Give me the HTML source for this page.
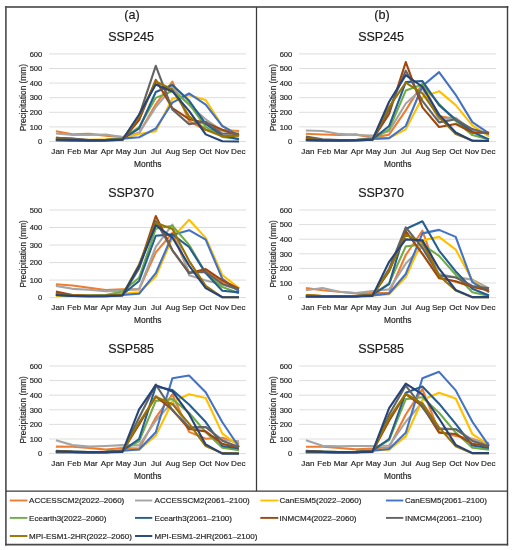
<!DOCTYPE html>
<html><head><meta charset="utf-8"><style>html,body{margin:0;padding:0;background:#fff;width:513px;height:550px;overflow:hidden}svg text{font-family:'Liberation Sans', sans-serif;stroke:currentColor;stroke-width:0.18px} svg{will-change:transform}</style></head>
<body><svg width="513" height="550" viewBox="0 0 513 550" style="display:block"><g><rect x="0" y="0" width="513" height="550" fill="#fff"/>
<text x="131.10" y="40.90" font-size="12.5" text-anchor="middle" fill="#1a1a1a" color="#1a1a1a">SSP245</text>
<text x="42.30" y="144.20" font-size="7.6" text-anchor="end" fill="#262626" color="#262626">0</text>
<line x1="49.1" y1="126.90" x2="246.0" y2="126.90" stroke="#d9d9d9" stroke-width="0.9"/>
<text x="42.30" y="129.60" font-size="7.6" text-anchor="end" fill="#262626" color="#262626">100</text>
<line x1="49.1" y1="112.30" x2="246.0" y2="112.30" stroke="#d9d9d9" stroke-width="0.9"/>
<text x="42.30" y="115.00" font-size="7.6" text-anchor="end" fill="#262626" color="#262626">200</text>
<line x1="49.1" y1="97.70" x2="246.0" y2="97.70" stroke="#d9d9d9" stroke-width="0.9"/>
<text x="42.30" y="100.40" font-size="7.6" text-anchor="end" fill="#262626" color="#262626">300</text>
<line x1="49.1" y1="83.10" x2="246.0" y2="83.10" stroke="#d9d9d9" stroke-width="0.9"/>
<text x="42.30" y="85.80" font-size="7.6" text-anchor="end" fill="#262626" color="#262626">400</text>
<line x1="49.1" y1="68.50" x2="246.0" y2="68.50" stroke="#d9d9d9" stroke-width="0.9"/>
<text x="42.30" y="71.20" font-size="7.6" text-anchor="end" fill="#262626" color="#262626">500</text>
<line x1="49.1" y1="53.90" x2="246.0" y2="53.90" stroke="#d9d9d9" stroke-width="0.9"/>
<text x="42.30" y="56.60" font-size="7.6" text-anchor="end" fill="#262626" color="#262626">600</text>
<line x1="49.1" y1="141.50" x2="246.0" y2="141.50" stroke="#d9d9d9" stroke-width="0.9"/>
<text x="57.90" y="154.10" font-size="8.1" text-anchor="middle" fill="#262626" color="#262626">Jan</text>
<text x="74.30" y="154.10" font-size="8.1" text-anchor="middle" fill="#262626" color="#262626">Feb</text>
<text x="90.70" y="154.10" font-size="8.1" text-anchor="middle" fill="#262626" color="#262626">Mar</text>
<text x="107.10" y="154.10" font-size="8.1" text-anchor="middle" fill="#262626" color="#262626">Apr</text>
<text x="123.50" y="154.10" font-size="8.1" text-anchor="middle" fill="#262626" color="#262626">May</text>
<text x="139.90" y="154.10" font-size="8.1" text-anchor="middle" fill="#262626" color="#262626">Jun</text>
<text x="156.30" y="154.10" font-size="8.1" text-anchor="middle" fill="#262626" color="#262626">Jul</text>
<text x="172.70" y="154.10" font-size="8.1" text-anchor="middle" fill="#262626" color="#262626">Aug</text>
<text x="189.10" y="154.10" font-size="8.1" text-anchor="middle" fill="#262626" color="#262626">Sep</text>
<text x="205.50" y="154.10" font-size="8.1" text-anchor="middle" fill="#262626" color="#262626">Oct</text>
<text x="221.90" y="154.10" font-size="8.1" text-anchor="middle" fill="#262626" color="#262626">Nov</text>
<text x="238.30" y="154.10" font-size="8.1" text-anchor="middle" fill="#262626" color="#262626">Dec</text>
<text x="147.75" y="166.80" font-size="8.4" text-anchor="middle" fill="#262626" color="#262626">Months</text>
<text x="26.20" y="97.70" font-size="8.3" text-anchor="middle" fill="#262626" color="#262626" transform="rotate(-90 26.20 97.70)">Precipitation (mm)</text>
<polyline points="55.90,131.28 72.55,134.20 89.19,133.91 105.84,135.66 122.48,137.12 139.12,133.03 155.77,104.27 172.41,81.64 189.06,121.06 205.71,129.97 222.35,129.97 239.00,130.99" fill="none" stroke="#ED7D31" stroke-width="2.1" stroke-linejoin="round" stroke-linecap="butt"/>
<polyline points="55.90,133.47 72.55,134.93 89.19,134.93 105.84,134.49 122.48,137.12 139.12,133.03 155.77,107.19 172.41,87.48 189.06,105.00 205.71,119.31 222.35,130.99 239.00,133.76" fill="none" stroke="#A5A5A5" stroke-width="2.1" stroke-linejoin="round" stroke-linecap="butt"/>
<polyline points="55.90,140.04 72.55,140.04 89.19,139.75 105.84,139.31 122.48,138.29 139.12,134.05 155.77,131.28 172.41,98.58 189.06,95.22 205.71,100.04 222.35,126.02 239.00,134.93" fill="none" stroke="#FFC000" stroke-width="2.1" stroke-linejoin="round" stroke-linecap="butt"/>
<polyline points="55.90,140.33 72.55,140.77 89.19,140.77 105.84,140.33 122.48,138.58 139.12,137.27 155.77,128.51 172.41,102.66 189.06,93.47 205.71,104.56 222.35,126.02 239.00,135.66" fill="none" stroke="#4472C4" stroke-width="2.1" stroke-linejoin="round" stroke-linecap="butt"/>
<polyline points="55.90,139.75 72.55,140.04 89.19,140.04 105.84,139.75 122.48,138.58 139.12,127.19 155.77,97.85 172.41,91.13 189.06,103.54 205.71,126.90 222.35,136.97 239.00,138.87" fill="none" stroke="#70AD47" stroke-width="2.1" stroke-linejoin="round" stroke-linecap="butt"/>
<polyline points="55.90,140.04 72.55,140.33 89.19,140.33 105.84,140.04 122.48,138.87 139.12,128.51 155.77,92.01 172.41,85.00 189.06,100.62 205.71,123.98 222.35,135.66 239.00,139.31" fill="none" stroke="#255E91" stroke-width="2.1" stroke-linejoin="round" stroke-linecap="butt"/>
<polyline points="55.90,137.85 72.55,138.73 89.19,140.33 105.84,140.33 122.48,140.04 139.12,120.04 155.77,79.89 172.41,108.21 189.06,119.16 205.71,122.67 222.35,129.67 239.00,135.66" fill="none" stroke="#9E480E" stroke-width="2.1" stroke-linejoin="round" stroke-linecap="butt"/>
<polyline points="55.90,137.85 72.55,138.58 89.19,140.04 105.84,140.04 122.48,139.75 139.12,115.95 155.77,65.87 172.41,109.53 189.06,124.13 205.71,121.94 222.35,133.76 239.00,133.76" fill="none" stroke="#636363" stroke-width="2.1" stroke-linejoin="round" stroke-linecap="butt"/>
<polyline points="55.90,139.31 72.55,140.04 89.19,140.04 105.84,140.04 122.48,139.31 139.12,116.68 155.77,81.49 172.41,89.52 189.06,116.39 205.71,129.67 222.35,136.39 239.00,135.66" fill="none" stroke="#997300" stroke-width="2.1" stroke-linejoin="round" stroke-linecap="butt"/>
<polyline points="55.90,139.75 72.55,140.04 89.19,140.33 105.84,140.33 122.48,139.75 139.12,114.49 155.77,84.41 172.41,91.42 189.06,110.84 205.71,134.35 222.35,141.21 239.00,141.50" fill="none" stroke="#264478" stroke-width="2.1" stroke-linejoin="round" stroke-linecap="butt"/>
<text x="131.10" y="197.00" font-size="12.5" text-anchor="middle" fill="#1a1a1a" color="#1a1a1a">SSP370</text>
<text x="42.30" y="300.30" font-size="7.6" text-anchor="end" fill="#262626" color="#262626">0</text>
<line x1="49.1" y1="280.08" x2="246.0" y2="280.08" stroke="#d9d9d9" stroke-width="0.9"/>
<text x="42.30" y="282.78" font-size="7.6" text-anchor="end" fill="#262626" color="#262626">100</text>
<line x1="49.1" y1="262.56" x2="246.0" y2="262.56" stroke="#d9d9d9" stroke-width="0.9"/>
<text x="42.30" y="265.26" font-size="7.6" text-anchor="end" fill="#262626" color="#262626">200</text>
<line x1="49.1" y1="245.04" x2="246.0" y2="245.04" stroke="#d9d9d9" stroke-width="0.9"/>
<text x="42.30" y="247.74" font-size="7.6" text-anchor="end" fill="#262626" color="#262626">300</text>
<line x1="49.1" y1="227.52" x2="246.0" y2="227.52" stroke="#d9d9d9" stroke-width="0.9"/>
<text x="42.30" y="230.22" font-size="7.6" text-anchor="end" fill="#262626" color="#262626">400</text>
<line x1="49.1" y1="210.00" x2="246.0" y2="210.00" stroke="#d9d9d9" stroke-width="0.9"/>
<text x="42.30" y="212.70" font-size="7.6" text-anchor="end" fill="#262626" color="#262626">500</text>
<line x1="49.1" y1="297.60" x2="246.0" y2="297.60" stroke="#d9d9d9" stroke-width="0.9"/>
<text x="57.90" y="310.20" font-size="8.1" text-anchor="middle" fill="#262626" color="#262626">Jan</text>
<text x="74.30" y="310.20" font-size="8.1" text-anchor="middle" fill="#262626" color="#262626">Feb</text>
<text x="90.70" y="310.20" font-size="8.1" text-anchor="middle" fill="#262626" color="#262626">Mar</text>
<text x="107.10" y="310.20" font-size="8.1" text-anchor="middle" fill="#262626" color="#262626">Apr</text>
<text x="123.50" y="310.20" font-size="8.1" text-anchor="middle" fill="#262626" color="#262626">May</text>
<text x="139.90" y="310.20" font-size="8.1" text-anchor="middle" fill="#262626" color="#262626">Jun</text>
<text x="156.30" y="310.20" font-size="8.1" text-anchor="middle" fill="#262626" color="#262626">Jul</text>
<text x="172.70" y="310.20" font-size="8.1" text-anchor="middle" fill="#262626" color="#262626">Aug</text>
<text x="189.10" y="310.20" font-size="8.1" text-anchor="middle" fill="#262626" color="#262626">Sep</text>
<text x="205.50" y="310.20" font-size="8.1" text-anchor="middle" fill="#262626" color="#262626">Oct</text>
<text x="221.90" y="310.20" font-size="8.1" text-anchor="middle" fill="#262626" color="#262626">Nov</text>
<text x="238.30" y="310.20" font-size="8.1" text-anchor="middle" fill="#262626" color="#262626">Dec</text>
<text x="147.75" y="322.90" font-size="8.4" text-anchor="middle" fill="#262626" color="#262626">Months</text>
<text x="26.20" y="253.80" font-size="8.3" text-anchor="middle" fill="#262626" color="#262626" transform="rotate(-90 26.20 253.80)">Precipitation (mm)</text>
<polyline points="55.90,284.28 72.55,285.51 89.19,287.79 105.84,290.07 122.48,289.37 139.12,289.37 155.77,252.40 172.41,232.95 189.06,272.55 205.71,270.44 222.35,281.66 239.00,288.66" fill="none" stroke="#ED7D31" stroke-width="2.1" stroke-linejoin="round" stroke-linecap="butt"/>
<polyline points="55.90,285.86 72.55,288.84 89.19,289.72 105.84,291.29 122.48,290.77 139.12,288.84 155.77,246.97 172.41,224.54 189.06,275.17 205.71,280.43 222.35,284.46 239.00,289.72" fill="none" stroke="#A5A5A5" stroke-width="2.1" stroke-linejoin="round" stroke-linecap="butt"/>
<polyline points="55.90,295.85 72.55,295.85 89.19,295.85 105.84,295.50 122.48,293.75 139.12,292.34 155.77,276.58 172.41,238.03 189.06,219.81 205.71,237.86 222.35,275.17 239.00,288.14" fill="none" stroke="#FFC000" stroke-width="2.1" stroke-linejoin="round" stroke-linecap="butt"/>
<polyline points="55.90,294.97 72.55,295.85 89.19,296.20 105.84,295.85 122.48,294.97 139.12,293.75 155.77,273.07 172.41,235.05 189.06,230.15 205.71,239.61 222.35,278.85 239.00,291.47" fill="none" stroke="#4472C4" stroke-width="2.1" stroke-linejoin="round" stroke-linecap="butt"/>
<polyline points="55.90,294.97 72.55,295.50 89.19,295.50 105.84,295.15 122.48,291.47 139.12,277.80 155.77,228.75 172.41,225.77 189.06,244.86 205.71,273.07 222.35,287.09 239.00,293.22" fill="none" stroke="#70AD47" stroke-width="2.1" stroke-linejoin="round" stroke-linecap="butt"/>
<polyline points="55.90,293.22 72.55,295.50 89.19,295.85 105.84,295.85 122.48,294.45 139.12,280.96 155.77,235.75 172.41,234.35 189.06,246.97 205.71,273.07 222.35,290.77 239.00,292.34" fill="none" stroke="#255E91" stroke-width="2.1" stroke-linejoin="round" stroke-linecap="butt"/>
<polyline points="55.90,291.64 72.55,295.15 89.19,295.85 105.84,295.85 122.48,294.97 139.12,266.76 155.77,215.96 172.41,250.30 189.06,273.25 205.71,269.04 222.35,280.43 239.00,288.66" fill="none" stroke="#9E480E" stroke-width="2.1" stroke-linejoin="round" stroke-linecap="butt"/>
<polyline points="55.90,294.10 72.55,295.85 89.19,296.20 105.84,296.20 122.48,295.50 139.12,268.34 155.77,221.04 172.41,250.30 189.06,272.55 205.71,272.02 222.35,283.93 239.00,289.54" fill="none" stroke="#636363" stroke-width="2.1" stroke-linejoin="round" stroke-linecap="butt"/>
<polyline points="55.90,294.10 72.55,295.50 89.19,295.85 105.84,295.85 122.48,294.97 139.12,264.49 155.77,222.79 172.41,228.92 189.06,260.81 205.71,285.86 222.35,297.25 239.00,297.25" fill="none" stroke="#997300" stroke-width="2.1" stroke-linejoin="round" stroke-linecap="butt"/>
<polyline points="55.90,294.97 72.55,295.85 89.19,296.20 105.84,296.20 122.48,295.50 139.12,266.06 155.77,225.24 172.41,237.51 189.06,265.54 205.71,288.14 222.35,297.25 239.00,297.25" fill="none" stroke="#264478" stroke-width="2.1" stroke-linejoin="round" stroke-linecap="butt"/>
<text x="131.10" y="353.00" font-size="12.5" text-anchor="middle" fill="#1a1a1a" color="#1a1a1a">SSP585</text>
<text x="42.30" y="456.30" font-size="7.6" text-anchor="end" fill="#262626" color="#262626">0</text>
<line x1="49.1" y1="439.00" x2="246.0" y2="439.00" stroke="#d9d9d9" stroke-width="0.9"/>
<text x="42.30" y="441.70" font-size="7.6" text-anchor="end" fill="#262626" color="#262626">100</text>
<line x1="49.1" y1="424.40" x2="246.0" y2="424.40" stroke="#d9d9d9" stroke-width="0.9"/>
<text x="42.30" y="427.10" font-size="7.6" text-anchor="end" fill="#262626" color="#262626">200</text>
<line x1="49.1" y1="409.80" x2="246.0" y2="409.80" stroke="#d9d9d9" stroke-width="0.9"/>
<text x="42.30" y="412.50" font-size="7.6" text-anchor="end" fill="#262626" color="#262626">300</text>
<line x1="49.1" y1="395.20" x2="246.0" y2="395.20" stroke="#d9d9d9" stroke-width="0.9"/>
<text x="42.30" y="397.90" font-size="7.6" text-anchor="end" fill="#262626" color="#262626">400</text>
<line x1="49.1" y1="380.60" x2="246.0" y2="380.60" stroke="#d9d9d9" stroke-width="0.9"/>
<text x="42.30" y="383.30" font-size="7.6" text-anchor="end" fill="#262626" color="#262626">500</text>
<line x1="49.1" y1="366.00" x2="246.0" y2="366.00" stroke="#d9d9d9" stroke-width="0.9"/>
<text x="42.30" y="368.70" font-size="7.6" text-anchor="end" fill="#262626" color="#262626">600</text>
<line x1="49.1" y1="453.60" x2="246.0" y2="453.60" stroke="#d9d9d9" stroke-width="0.9"/>
<text x="57.90" y="466.20" font-size="8.1" text-anchor="middle" fill="#262626" color="#262626">Jan</text>
<text x="74.30" y="466.20" font-size="8.1" text-anchor="middle" fill="#262626" color="#262626">Feb</text>
<text x="90.70" y="466.20" font-size="8.1" text-anchor="middle" fill="#262626" color="#262626">Mar</text>
<text x="107.10" y="466.20" font-size="8.1" text-anchor="middle" fill="#262626" color="#262626">Apr</text>
<text x="123.50" y="466.20" font-size="8.1" text-anchor="middle" fill="#262626" color="#262626">May</text>
<text x="139.90" y="466.20" font-size="8.1" text-anchor="middle" fill="#262626" color="#262626">Jun</text>
<text x="156.30" y="466.20" font-size="8.1" text-anchor="middle" fill="#262626" color="#262626">Jul</text>
<text x="172.70" y="466.20" font-size="8.1" text-anchor="middle" fill="#262626" color="#262626">Aug</text>
<text x="189.10" y="466.20" font-size="8.1" text-anchor="middle" fill="#262626" color="#262626">Sep</text>
<text x="205.50" y="466.20" font-size="8.1" text-anchor="middle" fill="#262626" color="#262626">Oct</text>
<text x="221.90" y="466.20" font-size="8.1" text-anchor="middle" fill="#262626" color="#262626">Nov</text>
<text x="238.30" y="466.20" font-size="8.1" text-anchor="middle" fill="#262626" color="#262626">Dec</text>
<text x="147.75" y="478.90" font-size="8.4" text-anchor="middle" fill="#262626" color="#262626">Months</text>
<text x="26.20" y="409.80" font-size="8.3" text-anchor="middle" fill="#262626" color="#262626" transform="rotate(-90 26.20 409.80)">Precipitation (mm)</text>
<polyline points="55.90,446.59 72.55,446.74 89.19,448.05 105.84,449.66 122.48,448.05 139.12,448.64 155.77,417.54 172.41,394.47 189.06,431.85 205.71,438.71 222.35,437.83 239.00,443.38" fill="none" stroke="#ED7D31" stroke-width="2.1" stroke-linejoin="round" stroke-linecap="butt"/>
<polyline points="55.90,440.17 72.55,445.13 89.19,446.59 105.84,446.01 122.48,445.13 139.12,445.42 155.77,420.75 172.41,401.92 189.06,428.78 205.71,427.03 222.35,439.73 239.00,441.19" fill="none" stroke="#A5A5A5" stroke-width="2.1" stroke-linejoin="round" stroke-linecap="butt"/>
<polyline points="55.90,452.14 72.55,452.14 89.19,452.43 105.84,452.14 122.48,450.39 139.12,449.51 155.77,435.64 172.41,401.92 189.06,394.18 205.71,397.97 222.35,433.60 239.00,445.57" fill="none" stroke="#FFC000" stroke-width="2.1" stroke-linejoin="round" stroke-linecap="butt"/>
<polyline points="55.90,452.43 72.55,452.43 89.19,452.43 105.84,452.43 122.48,450.68 139.12,449.51 155.77,432.28 172.41,378.26 189.06,375.49 205.71,392.28 222.35,422.21 239.00,447.03" fill="none" stroke="#4472C4" stroke-width="2.1" stroke-linejoin="round" stroke-linecap="butt"/>
<polyline points="55.90,451.85 72.55,451.85 89.19,452.14 105.84,451.85 122.48,449.95 139.12,441.34 155.77,400.89 172.41,399.14 189.06,412.72 205.71,432.14 222.35,447.61 239.00,450.10" fill="none" stroke="#70AD47" stroke-width="2.1" stroke-linejoin="round" stroke-linecap="butt"/>
<polyline points="55.90,451.85 72.55,451.85 89.19,452.14 105.84,451.85 122.48,450.68 139.12,439.00 155.77,386.44 172.41,389.94 189.06,404.54 205.71,422.06 222.35,446.01 239.00,448.49" fill="none" stroke="#255E91" stroke-width="2.1" stroke-linejoin="round" stroke-linecap="butt"/>
<polyline points="55.90,450.68 72.55,451.85 89.19,452.14 105.84,452.14 122.48,451.41 139.12,424.40 155.77,396.37 172.41,409.80 189.06,429.07 205.71,431.41 222.35,443.82 239.00,447.76" fill="none" stroke="#9E480E" stroke-width="2.1" stroke-linejoin="round" stroke-linecap="butt"/>
<polyline points="55.90,450.97 72.55,451.85 89.19,452.14 105.84,452.14 122.48,451.41 139.12,417.54 155.77,384.54 172.41,410.38 189.06,427.32 205.71,427.03 222.35,440.75 239.00,447.03" fill="none" stroke="#636363" stroke-width="2.1" stroke-linejoin="round" stroke-linecap="butt"/>
<polyline points="55.90,451.41 72.55,451.85 89.19,452.14 105.84,452.14 122.48,451.85 139.12,422.50 155.77,396.81 172.41,404.11 189.06,423.67 205.71,446.15 222.35,453.16 239.00,453.31" fill="none" stroke="#997300" stroke-width="2.1" stroke-linejoin="round" stroke-linecap="butt"/>
<polyline points="55.90,451.41 72.55,451.85 89.19,452.14 105.84,452.14 122.48,451.85 139.12,409.36 155.77,385.13 172.41,391.40 189.06,414.18 205.71,444.40 222.35,453.60 239.00,453.60" fill="none" stroke="#264478" stroke-width="2.1" stroke-linejoin="round" stroke-linecap="butt"/>
<text x="381.10" y="40.90" font-size="12.5" text-anchor="middle" fill="#1a1a1a" color="#1a1a1a">SSP245</text>
<text x="292.30" y="144.20" font-size="7.6" text-anchor="end" fill="#262626" color="#262626">0</text>
<line x1="299.1" y1="126.90" x2="496.0" y2="126.90" stroke="#d9d9d9" stroke-width="0.9"/>
<text x="292.30" y="129.60" font-size="7.6" text-anchor="end" fill="#262626" color="#262626">100</text>
<line x1="299.1" y1="112.30" x2="496.0" y2="112.30" stroke="#d9d9d9" stroke-width="0.9"/>
<text x="292.30" y="115.00" font-size="7.6" text-anchor="end" fill="#262626" color="#262626">200</text>
<line x1="299.1" y1="97.70" x2="496.0" y2="97.70" stroke="#d9d9d9" stroke-width="0.9"/>
<text x="292.30" y="100.40" font-size="7.6" text-anchor="end" fill="#262626" color="#262626">300</text>
<line x1="299.1" y1="83.10" x2="496.0" y2="83.10" stroke="#d9d9d9" stroke-width="0.9"/>
<text x="292.30" y="85.80" font-size="7.6" text-anchor="end" fill="#262626" color="#262626">400</text>
<line x1="299.1" y1="68.50" x2="496.0" y2="68.50" stroke="#d9d9d9" stroke-width="0.9"/>
<text x="292.30" y="71.20" font-size="7.6" text-anchor="end" fill="#262626" color="#262626">500</text>
<line x1="299.1" y1="53.90" x2="496.0" y2="53.90" stroke="#d9d9d9" stroke-width="0.9"/>
<text x="292.30" y="56.60" font-size="7.6" text-anchor="end" fill="#262626" color="#262626">600</text>
<line x1="299.1" y1="141.50" x2="496.0" y2="141.50" stroke="#d9d9d9" stroke-width="0.9"/>
<text x="307.90" y="154.10" font-size="8.1" text-anchor="middle" fill="#262626" color="#262626">Jan</text>
<text x="324.30" y="154.10" font-size="8.1" text-anchor="middle" fill="#262626" color="#262626">Feb</text>
<text x="340.70" y="154.10" font-size="8.1" text-anchor="middle" fill="#262626" color="#262626">Mar</text>
<text x="357.10" y="154.10" font-size="8.1" text-anchor="middle" fill="#262626" color="#262626">Apr</text>
<text x="373.50" y="154.10" font-size="8.1" text-anchor="middle" fill="#262626" color="#262626">May</text>
<text x="389.90" y="154.10" font-size="8.1" text-anchor="middle" fill="#262626" color="#262626">Jun</text>
<text x="406.30" y="154.10" font-size="8.1" text-anchor="middle" fill="#262626" color="#262626">Jul</text>
<text x="422.70" y="154.10" font-size="8.1" text-anchor="middle" fill="#262626" color="#262626">Aug</text>
<text x="439.10" y="154.10" font-size="8.1" text-anchor="middle" fill="#262626" color="#262626">Sep</text>
<text x="455.50" y="154.10" font-size="8.1" text-anchor="middle" fill="#262626" color="#262626">Oct</text>
<text x="471.90" y="154.10" font-size="8.1" text-anchor="middle" fill="#262626" color="#262626">Nov</text>
<text x="488.30" y="154.10" font-size="8.1" text-anchor="middle" fill="#262626" color="#262626">Dec</text>
<text x="397.75" y="166.80" font-size="8.4" text-anchor="middle" fill="#262626" color="#262626">Months</text>
<text x="276.20" y="97.70" font-size="8.3" text-anchor="middle" fill="#262626" color="#262626" transform="rotate(-90 276.20 97.70)">Precipitation (mm)</text>
<polyline points="305.90,133.76 322.54,134.49 339.19,134.93 355.83,134.35 372.48,137.70 389.12,134.64 405.77,110.40 422.41,83.54 439.06,116.39 455.70,118.87 472.35,132.89 489.00,132.45" fill="none" stroke="#ED7D31" stroke-width="2.1" stroke-linejoin="round" stroke-linecap="butt"/>
<polyline points="305.90,130.55 322.54,130.99 339.19,133.91 355.83,134.93 372.48,135.66 389.12,131.13 405.77,103.54 422.41,88.50 439.06,119.45 455.70,117.70 472.35,130.84 489.00,134.05" fill="none" stroke="#A5A5A5" stroke-width="2.1" stroke-linejoin="round" stroke-linecap="butt"/>
<polyline points="305.90,140.33 322.54,140.33 339.19,140.33 355.83,140.04 372.48,138.58 389.12,138.14 405.77,129.38 422.41,97.55 439.06,91.13 455.70,105.15 472.35,125.44 489.00,136.39" fill="none" stroke="#FFC000" stroke-width="2.1" stroke-linejoin="round" stroke-linecap="butt"/>
<polyline points="305.90,140.33 322.54,140.33 339.19,140.33 355.83,140.04 372.48,138.87 389.12,138.14 405.77,126.02 422.41,86.02 439.06,72.15 455.70,94.78 472.35,122.08 489.00,133.47" fill="none" stroke="#4472C4" stroke-width="2.1" stroke-linejoin="round" stroke-linecap="butt"/>
<polyline points="305.90,138.43 322.54,140.04 339.19,140.33 355.83,140.04 372.48,139.31 389.12,129.38 405.77,90.55 422.41,84.41 439.06,103.98 455.70,120.91 472.35,135.08 489.00,139.46" fill="none" stroke="#70AD47" stroke-width="2.1" stroke-linejoin="round" stroke-linecap="butt"/>
<polyline points="305.90,140.04 322.54,140.33 339.19,140.33 355.83,140.04 372.48,139.31 389.12,126.02 405.77,82.08 422.41,81.06 439.06,105.15 455.70,119.60 472.35,131.86 489.00,139.46" fill="none" stroke="#255E91" stroke-width="2.1" stroke-linejoin="round" stroke-linecap="butt"/>
<polyline points="305.90,137.85 322.54,139.75 339.19,140.33 355.83,140.33 372.48,139.75 389.12,113.91 405.77,62.08 422.41,107.34 439.06,127.05 455.70,123.98 472.35,132.45 489.00,133.03" fill="none" stroke="#9E480E" stroke-width="2.1" stroke-linejoin="round" stroke-linecap="butt"/>
<polyline points="305.90,136.54 322.54,139.31 339.19,140.04 355.83,140.04 372.48,139.31 389.12,109.38 405.77,70.69 422.41,100.77 439.06,122.37 455.70,119.31 472.35,129.09 489.00,134.05" fill="none" stroke="#636363" stroke-width="2.1" stroke-linejoin="round" stroke-linecap="butt"/>
<polyline points="305.90,139.31 322.54,140.04 339.19,140.33 355.83,140.04 372.48,139.75 389.12,107.04 405.77,82.52 422.41,93.47 439.06,117.12 455.70,134.05 472.35,140.62 489.00,140.92" fill="none" stroke="#997300" stroke-width="2.1" stroke-linejoin="round" stroke-linecap="butt"/>
<polyline points="305.90,140.04 322.54,140.33 339.19,140.33 355.83,140.33 372.48,139.75 389.12,101.79 405.77,75.07 422.41,86.75 439.06,114.64 455.70,132.45 472.35,140.77 489.00,141.06" fill="none" stroke="#264478" stroke-width="2.1" stroke-linejoin="round" stroke-linecap="butt"/>
<text x="381.10" y="197.00" font-size="12.5" text-anchor="middle" fill="#1a1a1a" color="#1a1a1a">SSP370</text>
<text x="292.30" y="300.30" font-size="7.6" text-anchor="end" fill="#262626" color="#262626">0</text>
<line x1="299.1" y1="283.00" x2="496.0" y2="283.00" stroke="#d9d9d9" stroke-width="0.9"/>
<text x="292.30" y="285.70" font-size="7.6" text-anchor="end" fill="#262626" color="#262626">100</text>
<line x1="299.1" y1="268.40" x2="496.0" y2="268.40" stroke="#d9d9d9" stroke-width="0.9"/>
<text x="292.30" y="271.10" font-size="7.6" text-anchor="end" fill="#262626" color="#262626">200</text>
<line x1="299.1" y1="253.80" x2="496.0" y2="253.80" stroke="#d9d9d9" stroke-width="0.9"/>
<text x="292.30" y="256.50" font-size="7.6" text-anchor="end" fill="#262626" color="#262626">300</text>
<line x1="299.1" y1="239.20" x2="496.0" y2="239.20" stroke="#d9d9d9" stroke-width="0.9"/>
<text x="292.30" y="241.90" font-size="7.6" text-anchor="end" fill="#262626" color="#262626">400</text>
<line x1="299.1" y1="224.60" x2="496.0" y2="224.60" stroke="#d9d9d9" stroke-width="0.9"/>
<text x="292.30" y="227.30" font-size="7.6" text-anchor="end" fill="#262626" color="#262626">500</text>
<line x1="299.1" y1="210.00" x2="496.0" y2="210.00" stroke="#d9d9d9" stroke-width="0.9"/>
<text x="292.30" y="212.70" font-size="7.6" text-anchor="end" fill="#262626" color="#262626">600</text>
<line x1="299.1" y1="297.60" x2="496.0" y2="297.60" stroke="#d9d9d9" stroke-width="0.9"/>
<text x="307.90" y="310.20" font-size="8.1" text-anchor="middle" fill="#262626" color="#262626">Jan</text>
<text x="324.30" y="310.20" font-size="8.1" text-anchor="middle" fill="#262626" color="#262626">Feb</text>
<text x="340.70" y="310.20" font-size="8.1" text-anchor="middle" fill="#262626" color="#262626">Mar</text>
<text x="357.10" y="310.20" font-size="8.1" text-anchor="middle" fill="#262626" color="#262626">Apr</text>
<text x="373.50" y="310.20" font-size="8.1" text-anchor="middle" fill="#262626" color="#262626">May</text>
<text x="389.90" y="310.20" font-size="8.1" text-anchor="middle" fill="#262626" color="#262626">Jun</text>
<text x="406.30" y="310.20" font-size="8.1" text-anchor="middle" fill="#262626" color="#262626">Jul</text>
<text x="422.70" y="310.20" font-size="8.1" text-anchor="middle" fill="#262626" color="#262626">Aug</text>
<text x="439.10" y="310.20" font-size="8.1" text-anchor="middle" fill="#262626" color="#262626">Sep</text>
<text x="455.50" y="310.20" font-size="8.1" text-anchor="middle" fill="#262626" color="#262626">Oct</text>
<text x="471.90" y="310.20" font-size="8.1" text-anchor="middle" fill="#262626" color="#262626">Nov</text>
<text x="488.30" y="310.20" font-size="8.1" text-anchor="middle" fill="#262626" color="#262626">Dec</text>
<text x="397.75" y="322.90" font-size="8.4" text-anchor="middle" fill="#262626" color="#262626">Months</text>
<text x="276.20" y="253.80" font-size="8.3" text-anchor="middle" fill="#262626" color="#262626" transform="rotate(-90 276.20 253.80)">Precipitation (mm)</text>
<polyline points="305.90,287.96 322.54,290.30 339.19,291.76 355.83,293.37 372.48,293.07 389.12,292.93 405.77,254.97 422.41,230.73 439.06,277.16 455.70,281.83 472.35,286.80 489.00,290.59" fill="none" stroke="#ED7D31" stroke-width="2.1" stroke-linejoin="round" stroke-linecap="butt"/>
<polyline points="305.90,290.30 322.54,287.96 339.19,291.76 355.83,293.07 372.48,291.03 389.12,289.42 405.77,263.58 422.41,246.50 439.06,273.95 455.70,277.16 472.35,279.64 489.00,288.40" fill="none" stroke="#A5A5A5" stroke-width="2.1" stroke-linejoin="round" stroke-linecap="butt"/>
<polyline points="305.90,294.97 322.54,296.14 339.19,296.43 355.83,296.14 372.48,295.41 389.12,294.24 405.77,277.31 422.41,240.37 439.06,236.86 455.70,249.57 472.35,280.52 489.00,291.76" fill="none" stroke="#FFC000" stroke-width="2.1" stroke-linejoin="round" stroke-linecap="butt"/>
<polyline points="305.90,296.43 322.54,296.43 339.19,296.43 355.83,296.14 372.48,295.41 389.12,293.51 405.77,273.95 422.41,233.36 439.06,229.86 455.70,236.86 472.35,282.12 489.00,292.20" fill="none" stroke="#4472C4" stroke-width="2.1" stroke-linejoin="round" stroke-linecap="butt"/>
<polyline points="305.90,296.14 322.54,296.43 339.19,296.43 355.83,296.14 372.48,294.97 389.12,283.44 405.77,246.35 422.41,244.46 439.06,255.84 455.70,274.68 472.35,292.20 489.00,295.85" fill="none" stroke="#70AD47" stroke-width="2.1" stroke-linejoin="round" stroke-linecap="butt"/>
<polyline points="305.90,296.43 322.54,296.43 339.19,296.43 355.83,296.14 372.48,294.68 389.12,284.17 405.77,228.98 422.41,221.24 439.06,250.59 455.70,271.47 472.35,288.84 489.00,295.56" fill="none" stroke="#255E91" stroke-width="2.1" stroke-linejoin="round" stroke-linecap="butt"/>
<polyline points="305.90,295.41 322.54,296.14 339.19,296.43 355.83,296.14 372.48,295.41 389.12,271.32 405.77,231.02 422.41,253.80 439.06,278.18 455.70,281.25 472.35,286.80 489.00,290.59" fill="none" stroke="#9E480E" stroke-width="2.1" stroke-linejoin="round" stroke-linecap="butt"/>
<polyline points="305.90,295.85 322.54,296.14 339.19,296.43 355.83,296.14 372.48,295.41 389.12,268.69 405.77,227.37 422.41,247.96 439.06,275.55 455.70,277.45 472.35,285.92 489.00,288.40" fill="none" stroke="#636363" stroke-width="2.1" stroke-linejoin="round" stroke-linecap="butt"/>
<polyline points="305.90,295.41 322.54,296.14 339.19,296.43 355.83,296.14 372.48,295.41 389.12,270.44 405.77,234.82 422.41,242.12 439.06,275.70 455.70,290.59 472.35,297.16 489.00,297.16" fill="none" stroke="#997300" stroke-width="2.1" stroke-linejoin="round" stroke-linecap="butt"/>
<polyline points="305.90,296.43 322.54,296.43 339.19,296.43 355.83,296.43 372.48,295.85 389.12,261.83 405.77,239.35 422.41,240.22 439.06,268.69 455.70,290.01 472.35,297.16 489.00,297.16" fill="none" stroke="#264478" stroke-width="2.1" stroke-linejoin="round" stroke-linecap="butt"/>
<text x="381.10" y="353.00" font-size="12.5" text-anchor="middle" fill="#1a1a1a" color="#1a1a1a">SSP585</text>
<text x="292.30" y="456.30" font-size="7.6" text-anchor="end" fill="#262626" color="#262626">0</text>
<line x1="299.1" y1="439.00" x2="496.0" y2="439.00" stroke="#d9d9d9" stroke-width="0.9"/>
<text x="292.30" y="441.70" font-size="7.6" text-anchor="end" fill="#262626" color="#262626">100</text>
<line x1="299.1" y1="424.40" x2="496.0" y2="424.40" stroke="#d9d9d9" stroke-width="0.9"/>
<text x="292.30" y="427.10" font-size="7.6" text-anchor="end" fill="#262626" color="#262626">200</text>
<line x1="299.1" y1="409.80" x2="496.0" y2="409.80" stroke="#d9d9d9" stroke-width="0.9"/>
<text x="292.30" y="412.50" font-size="7.6" text-anchor="end" fill="#262626" color="#262626">300</text>
<line x1="299.1" y1="395.20" x2="496.0" y2="395.20" stroke="#d9d9d9" stroke-width="0.9"/>
<text x="292.30" y="397.90" font-size="7.6" text-anchor="end" fill="#262626" color="#262626">400</text>
<line x1="299.1" y1="380.60" x2="496.0" y2="380.60" stroke="#d9d9d9" stroke-width="0.9"/>
<text x="292.30" y="383.30" font-size="7.6" text-anchor="end" fill="#262626" color="#262626">500</text>
<line x1="299.1" y1="366.00" x2="496.0" y2="366.00" stroke="#d9d9d9" stroke-width="0.9"/>
<text x="292.30" y="368.70" font-size="7.6" text-anchor="end" fill="#262626" color="#262626">600</text>
<line x1="299.1" y1="453.60" x2="496.0" y2="453.60" stroke="#d9d9d9" stroke-width="0.9"/>
<text x="307.90" y="466.20" font-size="8.1" text-anchor="middle" fill="#262626" color="#262626">Jan</text>
<text x="324.30" y="466.20" font-size="8.1" text-anchor="middle" fill="#262626" color="#262626">Feb</text>
<text x="340.70" y="466.20" font-size="8.1" text-anchor="middle" fill="#262626" color="#262626">Mar</text>
<text x="357.10" y="466.20" font-size="8.1" text-anchor="middle" fill="#262626" color="#262626">Apr</text>
<text x="373.50" y="466.20" font-size="8.1" text-anchor="middle" fill="#262626" color="#262626">May</text>
<text x="389.90" y="466.20" font-size="8.1" text-anchor="middle" fill="#262626" color="#262626">Jun</text>
<text x="406.30" y="466.20" font-size="8.1" text-anchor="middle" fill="#262626" color="#262626">Jul</text>
<text x="422.70" y="466.20" font-size="8.1" text-anchor="middle" fill="#262626" color="#262626">Aug</text>
<text x="439.10" y="466.20" font-size="8.1" text-anchor="middle" fill="#262626" color="#262626">Sep</text>
<text x="455.50" y="466.20" font-size="8.1" text-anchor="middle" fill="#262626" color="#262626">Oct</text>
<text x="471.90" y="466.20" font-size="8.1" text-anchor="middle" fill="#262626" color="#262626">Nov</text>
<text x="488.30" y="466.20" font-size="8.1" text-anchor="middle" fill="#262626" color="#262626">Dec</text>
<text x="397.75" y="478.90" font-size="8.4" text-anchor="middle" fill="#262626" color="#262626">Months</text>
<text x="276.20" y="409.80" font-size="8.3" text-anchor="middle" fill="#262626" color="#262626" transform="rotate(-90 276.20 409.80)">Precipitation (mm)</text>
<polyline points="305.90,446.74 322.54,446.74 339.19,448.05 355.83,449.37 372.48,448.49 389.12,447.32 405.77,414.47 422.41,389.07 439.06,431.70 455.70,436.08 472.35,438.85 489.00,444.40" fill="none" stroke="#ED7D31" stroke-width="2.1" stroke-linejoin="round" stroke-linecap="butt"/>
<polyline points="305.90,440.17 322.54,445.86 339.19,446.30 355.83,446.01 372.48,446.01 389.12,445.57 405.77,421.77 422.41,402.50 439.06,428.05 455.70,429.22 472.35,439.73 489.00,442.94" fill="none" stroke="#A5A5A5" stroke-width="2.1" stroke-linejoin="round" stroke-linecap="butt"/>
<polyline points="305.90,452.14 322.54,452.14 339.19,452.43 355.83,452.14 372.48,450.39 389.12,449.66 405.77,436.37 422.41,400.02 439.06,392.72 455.70,398.56 472.35,434.04 489.00,444.84" fill="none" stroke="#FFC000" stroke-width="2.1" stroke-linejoin="round" stroke-linecap="butt"/>
<polyline points="305.90,452.43 322.54,452.43 339.19,452.43 355.83,452.43 372.48,450.68 389.12,449.07 405.77,432.72 422.41,378.26 439.06,371.84 455.70,390.38 472.35,421.77 489.00,445.86" fill="none" stroke="#4472C4" stroke-width="2.1" stroke-linejoin="round" stroke-linecap="butt"/>
<polyline points="305.90,451.85 322.54,451.85 339.19,452.14 355.83,451.85 372.48,449.95 389.12,440.02 405.77,399.14 422.41,397.24 439.06,412.72 455.70,432.58 472.35,447.76 489.00,449.66" fill="none" stroke="#70AD47" stroke-width="2.1" stroke-linejoin="round" stroke-linecap="butt"/>
<polyline points="305.90,451.85 322.54,451.85 339.19,452.14 355.83,451.85 372.48,450.68 389.12,439.00 405.77,392.72 422.41,386.44 439.06,403.67 455.70,423.82 472.35,445.57 489.00,447.91" fill="none" stroke="#255E91" stroke-width="2.1" stroke-linejoin="round" stroke-linecap="butt"/>
<polyline points="305.90,450.68 322.54,451.85 339.19,452.14 355.83,452.14 372.48,451.41 389.12,420.75 405.77,394.03 422.41,406.15 439.06,432.72 455.70,434.04 472.35,443.67 489.00,446.30" fill="none" stroke="#9E480E" stroke-width="2.1" stroke-linejoin="round" stroke-linecap="butt"/>
<polyline points="305.90,450.97 322.54,451.85 339.19,452.14 355.83,452.14 372.48,451.41 389.12,414.47 405.77,385.56 422.41,407.32 439.06,429.07 455.70,429.22 472.35,440.90 489.00,446.30" fill="none" stroke="#636363" stroke-width="2.1" stroke-linejoin="round" stroke-linecap="butt"/>
<polyline points="305.90,451.41 322.54,451.85 339.19,452.14 355.83,452.14 372.48,451.85 389.12,418.12 405.77,393.59 422.41,403.67 439.06,427.32 455.70,446.30 472.35,453.16 489.00,453.16" fill="none" stroke="#997300" stroke-width="2.1" stroke-linejoin="round" stroke-linecap="butt"/>
<polyline points="305.90,451.41 322.54,451.85 339.19,452.14 355.83,452.14 372.48,451.85 389.12,408.19 405.77,383.67 422.41,394.47 439.06,418.56 455.70,444.84 472.35,453.16 489.00,453.16" fill="none" stroke="#264478" stroke-width="2.1" stroke-linejoin="round" stroke-linecap="butt"/>
<text x="132.05" y="18.6" font-size="12.6" text-anchor="middle" fill="#1a1a1a" color="#1a1a1a">(a)</text>
<text x="381.9" y="18.6" font-size="12.6" text-anchor="middle" fill="#1a1a1a" color="#1a1a1a">(b)</text>
<line x1="4.9" y1="7.0" x2="508.3" y2="7.0" stroke="#6a6a6a" stroke-width="1.9"/>
<line x1="5.9" y1="6.0" x2="5.9" y2="545.4" stroke="#555" stroke-width="1.7"/>
<line x1="507.5" y1="6.0" x2="507.5" y2="545.4" stroke="#3d3d3d" stroke-width="1.4"/>
<line x1="5.0" y1="544.6" x2="508.2" y2="544.6" stroke="#484848" stroke-width="1.6"/>
<line x1="256.5" y1="7" x2="256.5" y2="491.2" stroke="#3a3a3a" stroke-width="1.25"/>
<line x1="5.9" y1="491.2" x2="507.5" y2="491.2" stroke="#3a3a3a" stroke-width="1.25"/>
<line x1="9.8" y1="500.5" x2="27.4" y2="500.5" stroke="#ED7D31" stroke-width="1.9"/>
<text x="29.1" y="503.40" font-size="8" fill="#262626" color="#262626">ACCESSCM2(2022–2060)</text>
<line x1="135" y1="500.5" x2="152.3" y2="500.5" stroke="#A5A5A5" stroke-width="1.9"/>
<text x="154.6" y="503.40" font-size="8" fill="#262626" color="#262626">ACCESSCM2(2061–2100)</text>
<line x1="260.3" y1="500.5" x2="278.3" y2="500.5" stroke="#FFC000" stroke-width="1.9"/>
<text x="279.6" y="503.40" font-size="8" fill="#262626" color="#262626">CanESM5(2022–2060)</text>
<line x1="386" y1="500.5" x2="403.3" y2="500.5" stroke="#4472C4" stroke-width="1.9"/>
<text x="405" y="503.40" font-size="8" fill="#262626" color="#262626">CanESM5(2061–2100)</text>
<line x1="9.8" y1="517.9" x2="27.4" y2="517.9" stroke="#70AD47" stroke-width="1.9"/>
<text x="29.1" y="520.80" font-size="8" fill="#262626" color="#262626">Ecearth3(2022–2060)</text>
<line x1="135" y1="517.9" x2="152.3" y2="517.9" stroke="#255E91" stroke-width="1.9"/>
<text x="154.6" y="520.80" font-size="8" fill="#262626" color="#262626">Ecearth3(2061–2100)</text>
<line x1="260.3" y1="517.9" x2="278.3" y2="517.9" stroke="#9E480E" stroke-width="1.9"/>
<text x="279.6" y="520.80" font-size="8" fill="#262626" color="#262626">INMCM4(2022–2060)</text>
<line x1="386" y1="517.9" x2="403.3" y2="517.9" stroke="#636363" stroke-width="1.9"/>
<text x="405" y="520.80" font-size="8" fill="#262626" color="#262626">INMCM4(2061–2100)</text>
<line x1="9.8" y1="536.0" x2="27.4" y2="536.0" stroke="#997300" stroke-width="1.9"/>
<text x="29.1" y="538.90" font-size="8" fill="#262626" color="#262626">MPI-ESM1-2HR(2022–2060)</text>
<line x1="135" y1="536.0" x2="152.3" y2="536.0" stroke="#264478" stroke-width="1.9"/>
<text x="154.6" y="538.90" font-size="8" fill="#262626" color="#262626">MPI-ESM1-2HR(2061–2100)</text></g></svg></body></html>
